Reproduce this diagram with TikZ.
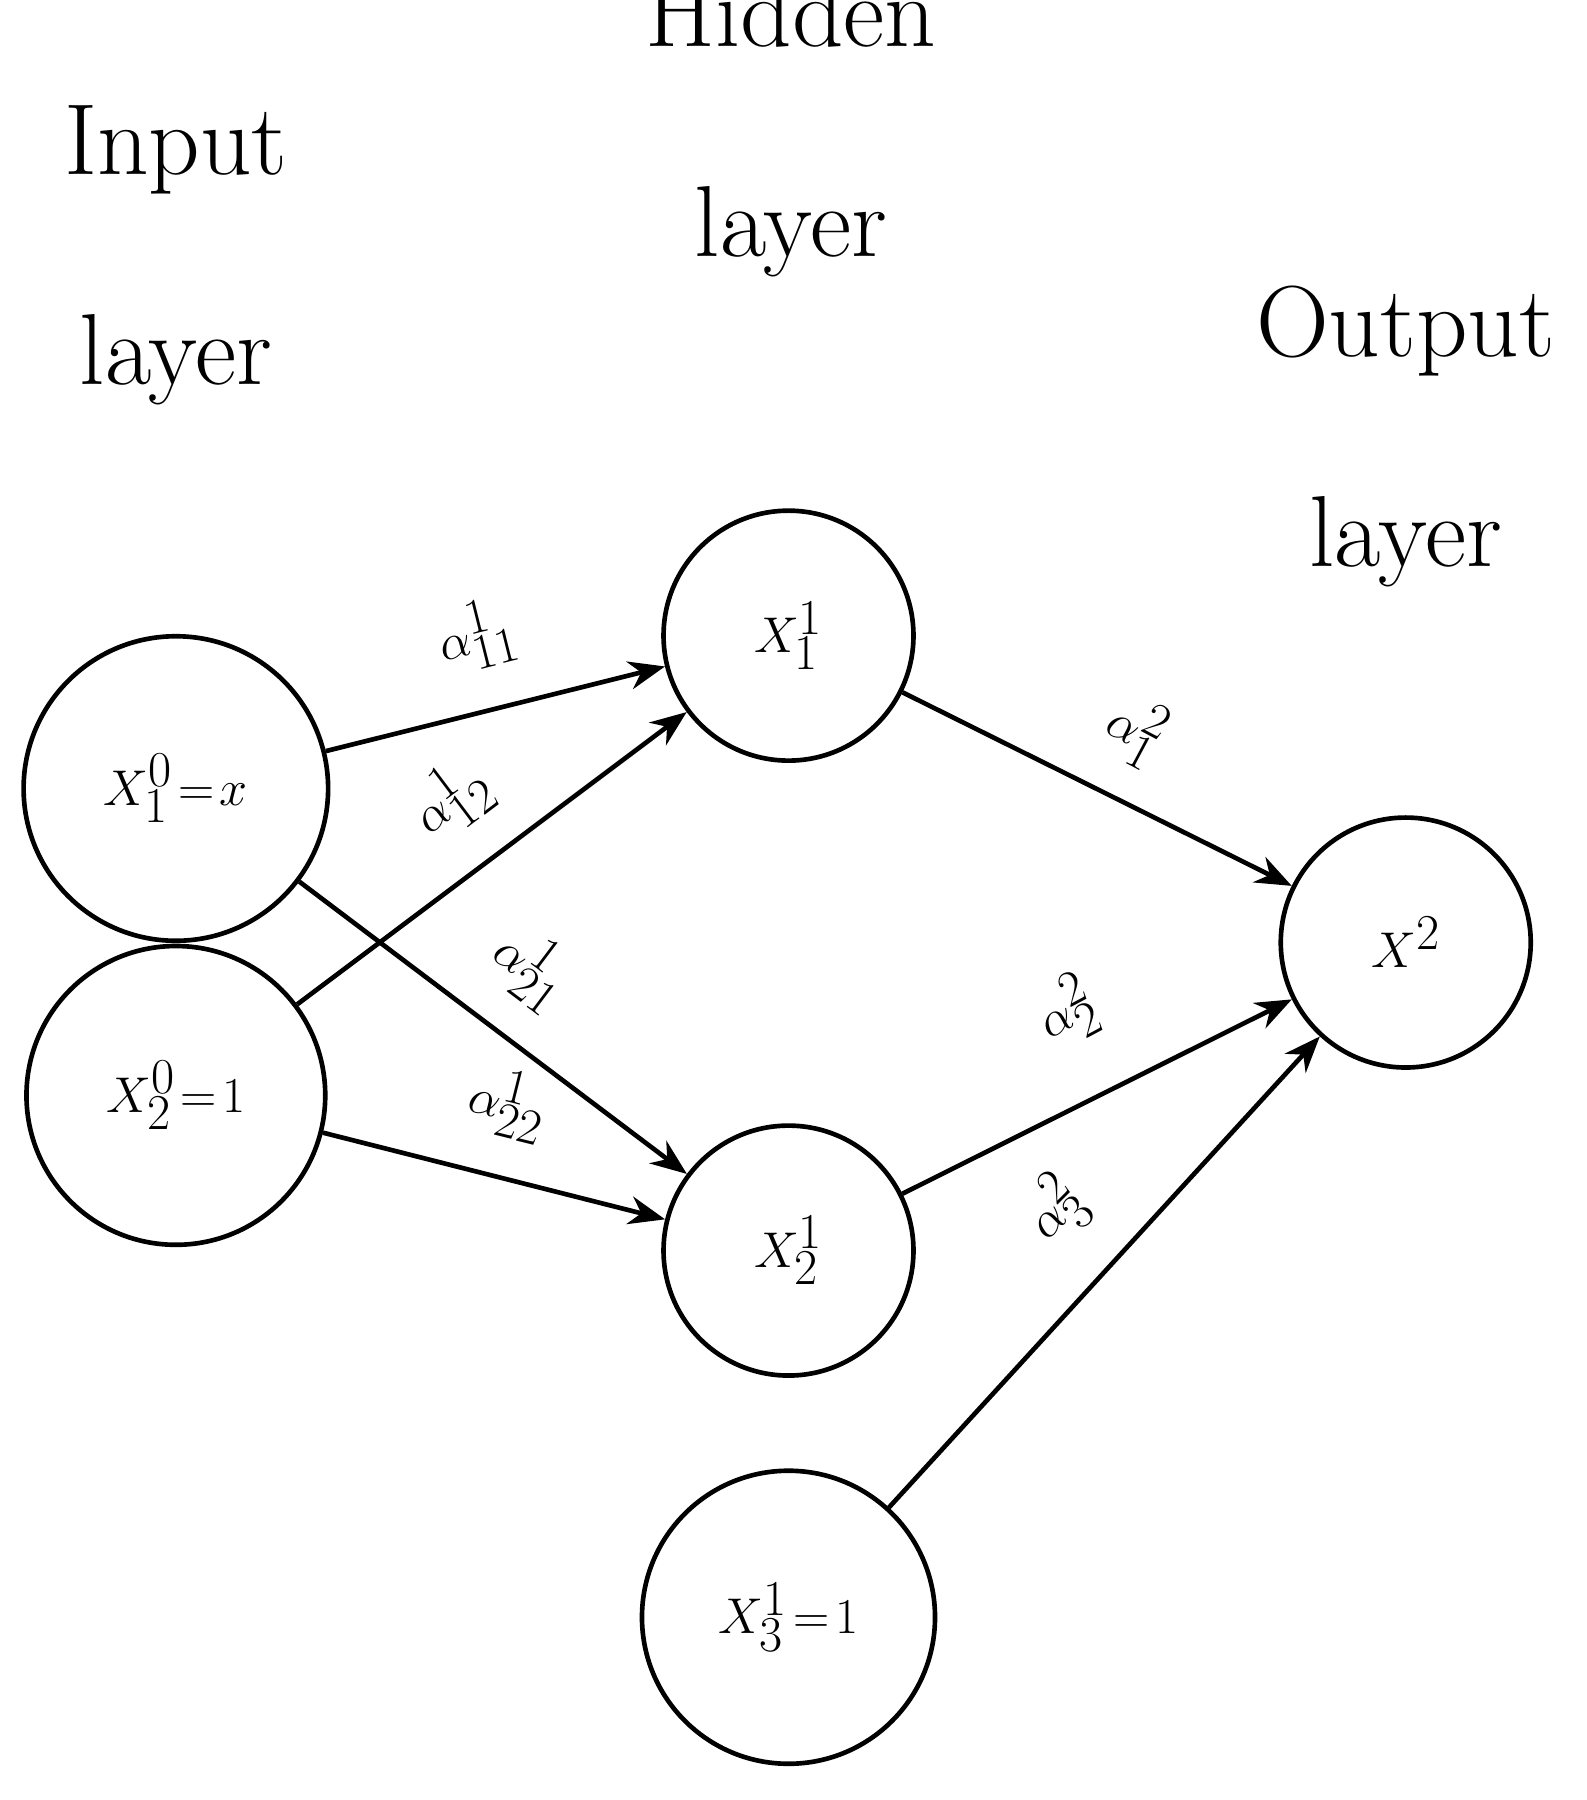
\documentclass[tikz,border=0pt]{standalone}
\usetikzlibrary{arrows.meta}
\begin{document}
\begin{tikzpicture}[x=0.02cm,y=-0.02cm,
  neuron/.style={circle,draw,line width=2.3pt,inner sep=0pt},
  conn/.style={line width=2.3pt,-{Stealth[length=18pt,width=14pt]}},
  lay/.style={align=center,font=\fontsize{50}{104}\selectfont},
  wl/.style={font=\fontsize{46}{55}\selectfont}]
\useasboundingbox (0,0) rectangle (1380,1566);
\begin{scope}[font=\fontsize{50}{60}\selectfont]
\node[neuron,minimum size=5.3cm] (i1) at (153,686) {$X^0_1\!=\!x$};
\node[neuron,minimum size=5.2cm] (i2) at (153,953) {$X^0_2\!=\!1$};
\node[neuron,minimum size=4.35cm] (h1) at (686,553) {$X^1_1$};
\node[neuron,minimum size=4.35cm] (h2) at (686,1088) {$X^1_2$};
\node[neuron,minimum size=5.1cm] (h3) at (686,1407) {$X^1_3\!=\!1$};
\node[neuron,minimum size=4.35cm] (o) at (1223,820) {$X^2$};
\end{scope}
\node[lay] (l1) at (153,222) {Input\\layer};
\node[lay] (l2) at (688,110) {Hidden\\layer};
\node[lay] (l3) at (1223,380) {Output\\layer};
\draw[conn] (i1) -- (h1);
\draw[conn] (i1) -- (h2);
\draw[conn] (i2) -- (h1);
\draw[conn] (i2) -- (h2);
\draw[conn] (h1) -- (o);
\draw[conn] (h2) -- (o);
\draw[conn] (h3) -- (o);
\node[wl,rotate=14] (a11) at (415,553) {$\alpha^1_{11}$};
\node[wl,rotate=37] (a12) at (392,695) {$\alpha^1_{12}$};
\node[wl,rotate=-37] (a21) at (463,842) {$\alpha^1_{21}$};
\node[wl,rotate=-14] (a22) at (442,960) {$\alpha^1_{22}$};
\node[wl,rotate=-28] (b1) at (988,635) {$\alpha^2_1$};
\node[wl,rotate=28] (b2) at (928,880) {$\alpha^2_2$};
\node[wl,rotate=45] (b3) at (918,1053) {$\alpha^2_3$};
\end{tikzpicture}
\end{document}
